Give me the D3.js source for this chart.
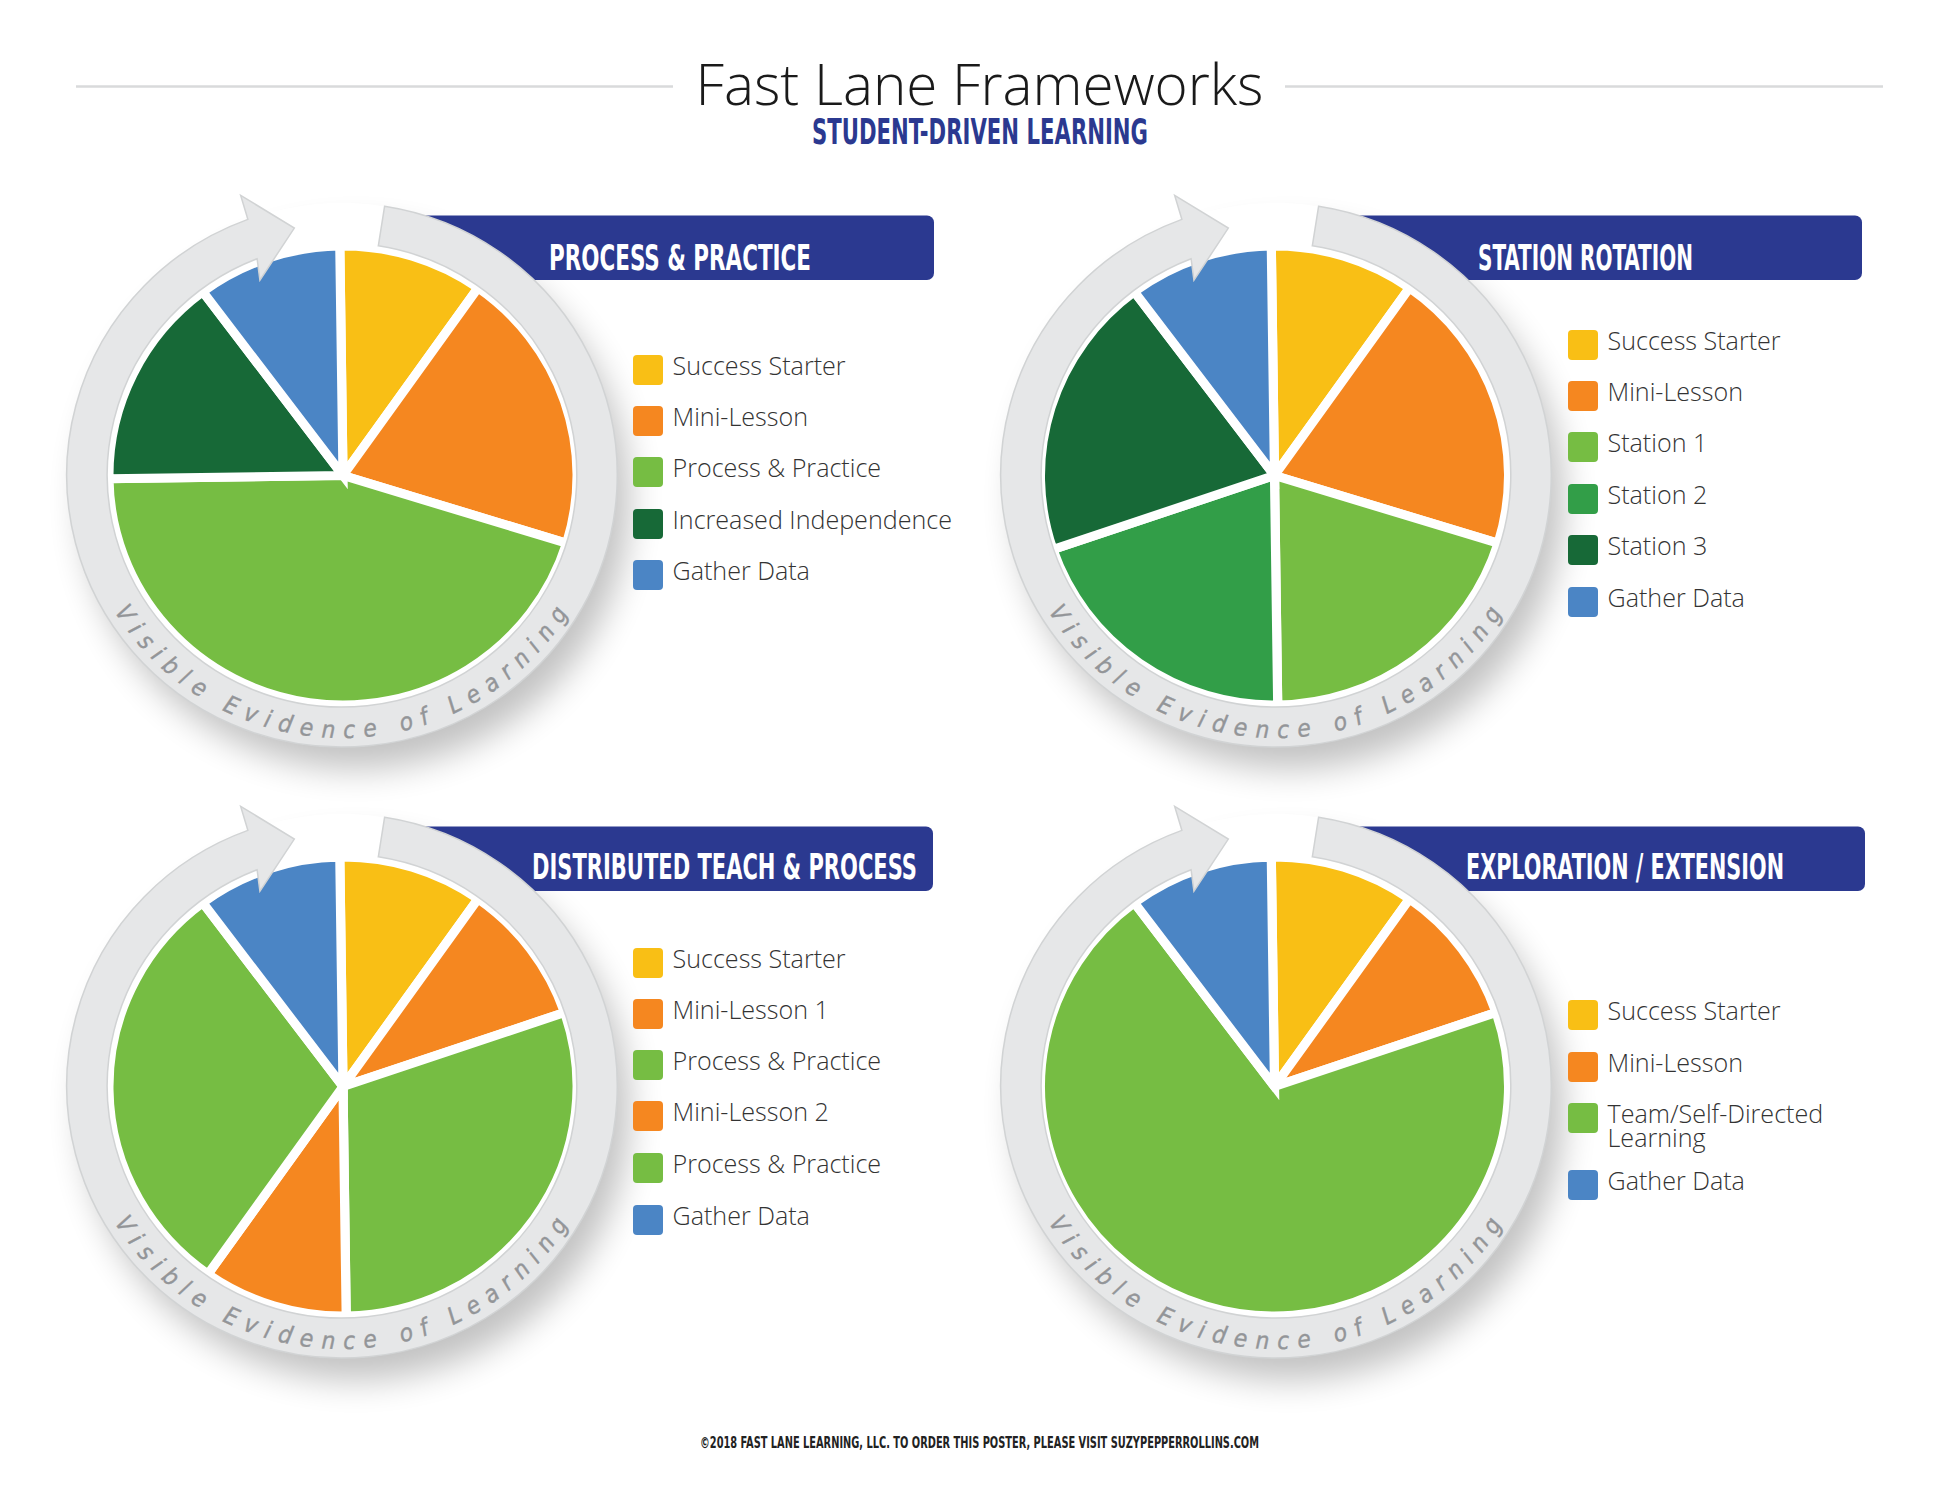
<!DOCTYPE html>
<html><head><meta charset="utf-8">
<script src="https://d3js.org/d3.v7.min.js"></script>
<style>html,body{margin:0;padding:0;background:#fff}svg{display:block}</style>
</head><body><svg id="c" width="1958" height="1493" viewBox="0 0 1958 1493"></svg>
<script>
// ---- data ----
const chartTitle = "Fast Lane Frameworks";
const chartSubtitle = "STUDENT-DRIVEN LEARNING";
const footerText = "©2018 FAST LANE LEARNING, LLC. TO ORDER THIS POSTER, PLEASE VISIT SUZYPEPPERROLLINS.COM";
const ringText = "Visible Evidence of Learning";

const processTitle = "PROCESS & PRACTICE";
const processLabels = ["Success Starter","Mini-Lesson","Process & Practice","Increased Independence","Gather Data"];
const processValues = [10,20,45,15,10];
const processKinds = ["yellow","orange","green","dark","blue"];

const stationTitle = "STATION ROTATION";
const stationLabels = ["Success Starter","Mini-Lesson","Station 1","Station 2","Station 3","Gather Data"];
const stationValues = [10,20,20,20,20,10];
const stationKinds = ["yellow","orange","green","mid","dark","blue"];

const distributedTitle = "DISTRIBUTED TEACH & PROCESS";
const distributedLabels = ["Success Starter","Mini-Lesson 1","Process & Practice","Mini-Lesson 2","Process & Practice","Gather Data"];
const distributedValues = [10,10,30,10,30,10];
const distributedKinds = ["yellow","orange","green","orange","green","blue"];

const explorationTitle = "EXPLORATION / EXTENSION";
const explorationLabels = ["Success Starter","Mini-Lesson","Team/Self-Directed\nLearning","Gather Data"];
const explorationValues = [10,10,70,10];
const explorationKinds = ["yellow","orange","green","blue"];

// ---- styles & layout ----
const palette = {yellow:"#f9bf15",orange:"#f58720",green:"#76bd43",mid:"#329e48",dark:"#176937",blue:"#4b85c5"};
const navy = "#2b3990";
const light = "'Open Sans',sans-serif";
const narrow = "'Liberation Sans Narrow','DejaVu Sans Condensed',sans-serif";

const panels = [
 {title:processTitle,labels:processLabels,values:processValues,kinds:processKinds,dx:0,dy:0,pieShift:0,bannerRight:934,titleX:549,titleW:262,titleY:270,legendX:633,rows:[370,421,472,524,575]},
 {title:stationTitle,labels:stationLabels,values:stationValues,kinds:stationKinds,dx:934,dy:0,pieShift:-2.5,bannerRight:1862,titleX:1478,titleW:215,titleY:270,legendX:1568,rows:[345,396,447,499,550,602]},
 {title:distributedTitle,labels:distributedLabels,values:distributedValues,kinds:distributedKinds,dx:0,dy:611,pieShift:0,bannerRight:933,titleX:532,titleW:385,titleY:879,legendX:633,rows:[963,1014,1065,1116,1168,1220]},
 {title:explorationTitle,labels:explorationLabels,values:explorationValues,kinds:explorationKinds,dx:934,dy:611,pieShift:-2.5,bannerRight:1865,titleX:1466,titleW:318,titleY:879,legendX:1568,rows:[1015,1067,1118,1185]}
];
const ringC = {x:342,y:475}, pieC = {x:343,y:475.5};
const stretchX = 1.012, pieStretchX = 1.02, pieTilt = -0.8;
const deg = d => d*Math.PI/180;

const svg = d3.select("#c");
const defs = svg.append("defs");
const blur = defs.append("filter").attr("id","soft").attr("x","-30%").attr("y","-30%").attr("width","160%").attr("height","160%");
blur.append("feGaussianBlur").attr("stdDeviation",17);

// ---- header ----
svg.append("text").attr("x",979.5).attr("y",105).attr("text-anchor","middle")
  .attr("font-family",light).attr("font-weight",300).attr("font-size",56.6).attr("fill","#1a1a1a").text(chartTitle);
[[76,673],[1285,1883]].forEach(r=>svg.append("line").attr("x1",r[0]).attr("x2",r[1]).attr("y1",86.5).attr("y2",86.5)
  .attr("stroke","#d9dadb").attr("stroke-width",2.5));
svg.append("text").attr("x",812).attr("y",144).attr("textLength",336).attr("lengthAdjust","spacingAndGlyphs")
  .attr("font-family",narrow).attr("font-weight",700).attr("font-size",36).attr("fill",navy).text(chartSubtitle);
svg.append("text").attr("x",700).attr("y",1448).attr("textLength",559).attr("lengthAdjust","spacingAndGlyphs")
  .attr("font-family",narrow).attr("font-weight",700).attr("font-size",15).attr("fill","#222").text(footerText);

// ---- panels ----
const pie = d3.pie().sort(null).value(d=>d);
const arc = d3.arc().innerRadius(0).outerRadius(229.5);
const RO=272, RI=232;

panels.forEach((p,idx)=>{
  const g = svg.append("g").attr("transform",`translate(${p.dx},${p.dy})`);
  const ringT = `translate(${ringC.x},${ringC.y}) scale(${stretchX},1)`;
  // shadow
  g.append("ellipse").attr("cx",ringC.x+14).attr("cy",ringC.y+24).attr("rx",RO*stretchX-2).attr("ry",RO-2)
    .attr("fill","#000").attr("opacity",0.24).attr("filter","url(#soft)");
  g.append("ellipse").attr("cx",ringC.x).attr("cy",ringC.y).attr("rx",RO*stretchX).attr("ry",RO).attr("fill","#fff");
  // banner
  g.append("rect").attr("x",400).attr("y",215.5).attr("width",p.bannerRight-p.dx-400).attr("height",64.5).attr("rx",7).attr("fill",navy);
  g.append("ellipse").attr("cx",ringC.x).attr("cy",ringC.y).attr("rx",RI*stretchX).attr("ry",RI).attr("fill","#fff");
  // slices
  g.append("g").attr("transform",`translate(${pieC.x+p.pieShift},${pieC.y}) rotate(${pieTilt}) scale(${pieStretchX},1)`)
    .selectAll("path").data(pie(p.values)).join("path")
    .attr("d",arc).attr("fill",(d,i)=>palette[p.kinds[i]])
    .attr("stroke","#fff").attr("stroke-width",9).attr("stroke-linejoin","miter");
  // ring + arrow as one outline
  const pt=(r,a)=>[r*Math.sin(deg(a)),-r*Math.cos(deg(a))];
  const path=d3.path(), a0=8.9, a1=340;
  path.moveTo(...pt(RO,a0));
  path.arc(0,0,RO,deg(a0-90),deg(a1-90));
  path.lineTo(...pt(297,340.3));
  path.lineTo(...pt(251.4,349.2));
  path.lineTo(...pt(211,337.4));
  path.lineTo(...pt(RI,338.8));
  path.arc(0,0,RI,deg(338.8-90),deg(a0-90),true);
  path.closePath();
  g.append("path").attr("transform",ringT).attr("d",path.toString()).attr("fill","#e6e7e8").attr("stroke","#d1d3d4").attr("stroke-width",1.5).attr("stroke-linejoin","miter");
  // ring text
  const tr=263, tp=d3.path();
  tp.moveTo(...pt(tr,250));
  tp.arc(0,0,tr,deg(250-90),deg(110-90),true);
  const rg=g.append("g").attr("transform",ringT);
  rg.append("path").attr("id","tp"+idx).attr("d",tp.toString()).attr("fill","none");
  rg.append("text").attr("font-family",narrow).attr("font-weight",400).attr("font-size",24).attr("font-style","italic")
    .attr("fill","#939598").attr("stroke","#939598").attr("stroke-width",0.4).attr("letter-spacing",8.6)
    .append("textPath").attr("href","#tp"+idx).attr("startOffset","50.5%").attr("text-anchor","middle").text(ringText);
  // banner title
  svg.append("text").attr("x",p.titleX).attr("y",p.titleY).attr("textLength",p.titleW).attr("lengthAdjust","spacingAndGlyphs")
    .attr("font-family",narrow).attr("font-weight",700).attr("font-size",36).attr("fill","#fff").text(p.title);
  // legend
  p.labels.forEach((lab,i)=>{
    const y=p.rows[i];
    svg.append("rect").attr("x",p.legendX).attr("y",y-15).attr("width",30).attr("height",30).attr("rx",4).attr("fill",palette[p.kinds[i]]);
    const lines=lab.split("\n");
    const t=svg.append("text").attr("font-family",light).attr("font-weight",300).attr("font-size",25.1).attr("fill","#333");
    lines.forEach((ln,k)=>t.append("tspan").attr("x",p.legendX+39.5).attr("y",y+5+k*24).text(ln));
  });
});
</script></body></html>
